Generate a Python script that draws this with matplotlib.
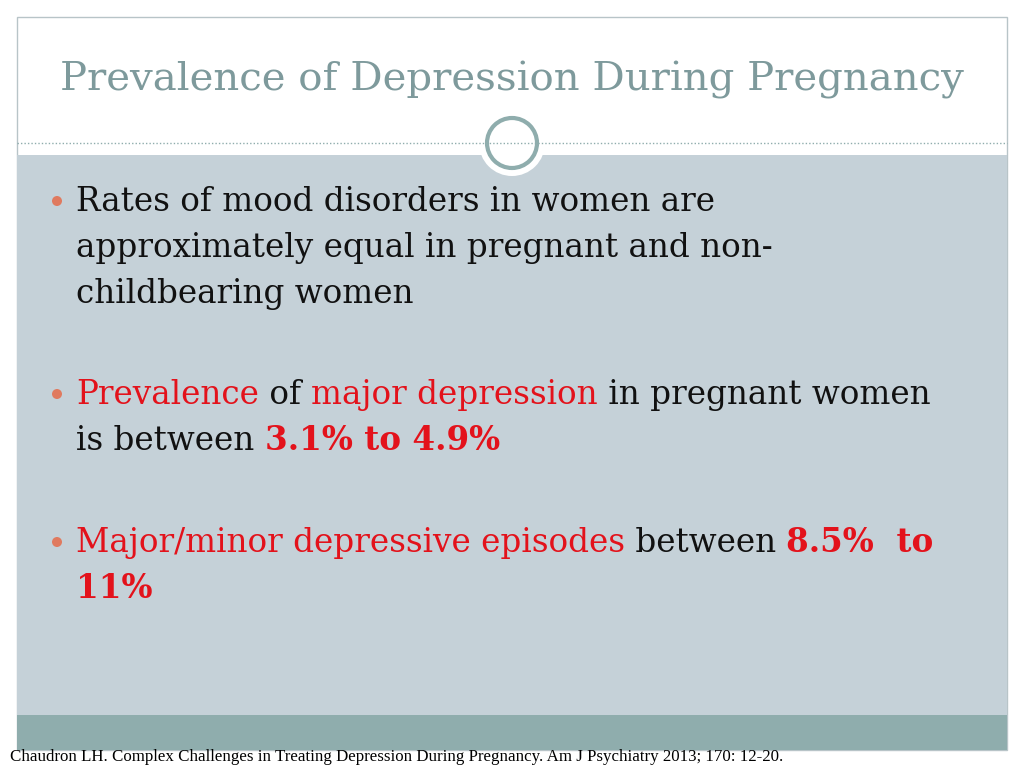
import matplotlib
matplotlib.use("Agg")
from matplotlib import pyplot as plt
from matplotlib.patches import Rectangle, Circle

TITLE = "Prevalence of Depression During Pregnancy"
RED = "#E3121B"
BLACK = "#111111"
# each bullet: list of lines, each line a list of (text, colour, bold)
BULLETS = [
    [[("Rates of mood disorders in women are", BLACK, False)],
     [("approximately equal in pregnant and non-", BLACK, False)],
     [("childbearing women", BLACK, False)]],
    [[("Prevalence", RED, False), (" of ", BLACK, False), ("major depression", RED, False),
      (" in pregnant women", BLACK, False)],
     [("is between ", BLACK, False), ("3.1% to 4.9%", RED, True)]],
    [[("Major/minor depressive episodes", RED, False), (" between ", BLACK, False),
      ("8.5%  to", RED, True)],
     [("11%", RED, True)]],
]
BULLET_TOPS = [202, 395, 543]
FOOTNOTE = "Chaudron LH. Complex Challenges in Treating Depression During Pregnancy. Am J Psychiatry 2013; 170: 12-20."

fig = plt.figure(figsize=(10.24, 7.68), dpi=100)
ax = fig.add_axes([0, 0, 1, 1])
ax.set_xlim(0, 1024)
ax.set_ylim(768, 0)
ax.axis('off')

# slide frame
ax.add_patch(Rectangle((17, 17), 990, 733, facecolor='white', edgecolor='#B8C4C8', linewidth=1))
ax.add_patch(Rectangle((17, 155), 990, 560, facecolor='#C5D1D8', edgecolor='none'))
ax.add_patch(Rectangle((17, 715), 990, 35, facecolor='#8FADAD', edgecolor='none'))
ax.plot([17, 1007], [143, 143], color='#8FADAD', linewidth=1, linestyle=(0, (1, 1.5)))
ax.add_patch(Circle((512, 143), 33, facecolor='white', edgecolor='none'))
ax.add_patch(Circle((512, 143), 25, facecolor='white', edgecolor='#8FADAD', linewidth=3))

ax.text(512, 80, TITLE, fontsize=29, family='DejaVu Serif', color='#7E9A9C',
        ha='center', va='center')

fig.canvas.draw()
renderer = fig.canvas.get_renderer()
inv = ax.transData.inverted()

def draw_run(x, y, parts):
    for txt, col, bold in parts:
        t = ax.text(x, y, txt, fontsize=23.5, family='DejaVu Serif', color=col,
                    fontweight='bold' if bold else 'normal', va='baseline', ha='left')
        bb = t.get_window_extent(renderer)
        x = inv.transform((bb.x1, bb.y1))[0]

line_h = 46
for top, lines in zip(BULLET_TOPS, BULLETS):
    ax.add_patch(Circle((57, top - 1), 5, facecolor='#E07A5F', edgecolor='none'))
    for i, parts in enumerate(lines):
        draw_run(76, top + 9 + i * line_h, parts)

ax.text(10, 757, FOOTNOTE, fontsize=12.2, family='Liberation Serif', color='black',
        ha='left', va='center')

fig.savefig("out.png", dpi=100)
